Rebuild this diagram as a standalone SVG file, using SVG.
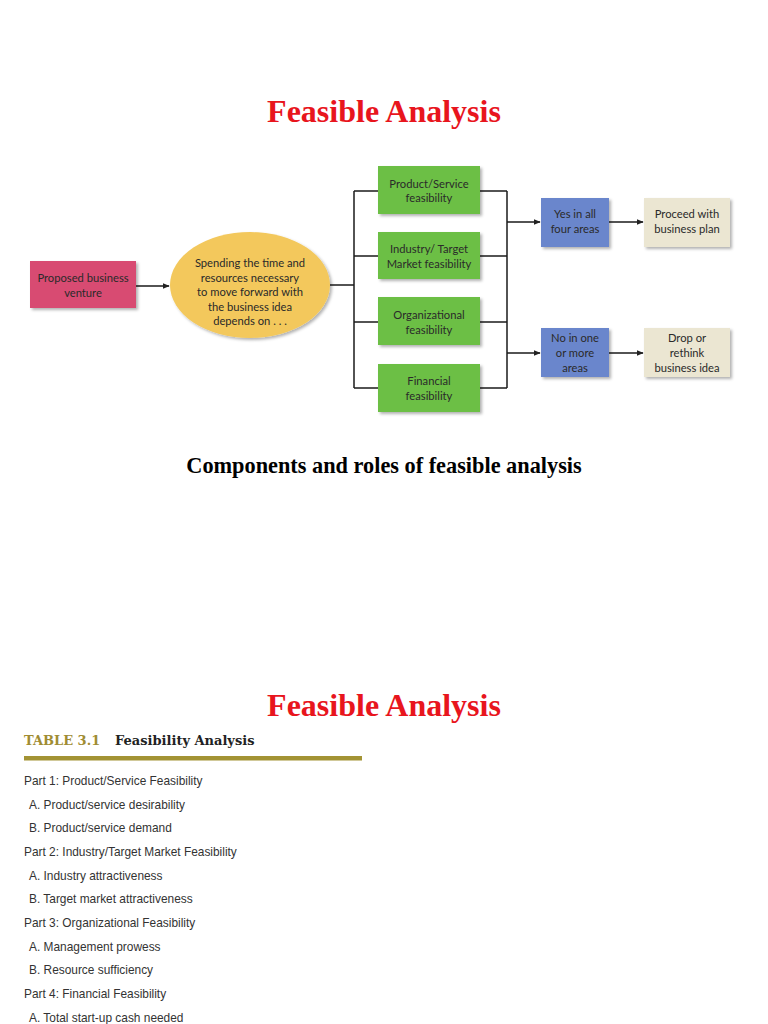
<svg xmlns="http://www.w3.org/2000/svg" width="768" height="1024" viewBox="0 0 768 1024">
<defs>
<filter id="sh" x="-10%" y="-10%" width="130%" height="130%">
<feDropShadow dx="2" dy="2" stdDeviation="1.5" flood-color="#000" flood-opacity="0.3"/>
</filter>
<marker id="ah" viewBox="0 0 10 10" refX="9" refY="5" markerWidth="7" markerHeight="7" orient="auto" markerUnits="userSpaceOnUse">
<path d="M0,1 L10,5 L0,9 z" fill="#222"/>
</marker>
<style>
.title{font-family:"Liberation Serif",serif;font-weight:bold;font-size:32px;fill:#e8151d;text-anchor:middle}
.cap{font-family:"Liberation Serif",serif;font-weight:bold;font-size:22.3px;fill:#000;text-anchor:middle}
.nt{font-family:Lato,"Liberation Sans",sans-serif;font-size:11.2px;fill:#2a2a2a;text-anchor:middle}
.ln{stroke:#1a1a1a;stroke-width:1.5;fill:none}
.tb{font-family:"Liberation Sans",Arial,sans-serif;font-size:11.9px;fill:#333}
</style>
</defs>
<rect width="768" height="1024" fill="#fff"/>
<text class="title" x="384" y="122">Feasible Analysis</text>

<g id="connectors">
<line class="ln" x1="136" y1="286" x2="169" y2="286" marker-end="url(#ah)"/>
<line class="ln" x1="330" y1="285" x2="354" y2="285"/>
<line class="ln" x1="354" y1="191" x2="354" y2="388"/>
<line class="ln" x1="354" y1="191" x2="378" y2="191"/>
<line class="ln" x1="354" y1="256" x2="378" y2="256"/>
<line class="ln" x1="354" y1="322" x2="378" y2="322"/>
<line class="ln" x1="354" y1="388" x2="378" y2="388"/>
<line class="ln" x1="480" y1="191" x2="507" y2="191"/>
<line class="ln" x1="480" y1="256" x2="507" y2="256"/>
<line class="ln" x1="480" y1="322" x2="507" y2="322"/>
<line class="ln" x1="480" y1="388" x2="507" y2="388"/>
<line class="ln" x1="507" y1="191" x2="507" y2="388"/>
<line class="ln" x1="507" y1="222" x2="540" y2="222" marker-end="url(#ah)"/>
<line class="ln" x1="507" y1="353" x2="540" y2="353" marker-end="url(#ah)"/>
<line class="ln" x1="609" y1="222" x2="643" y2="222" marker-end="url(#ah)"/>
<line class="ln" x1="609" y1="353" x2="643" y2="353" marker-end="url(#ah)"/>
</g>

<g id="n-venture">
<rect x="30" y="261" width="106" height="47" fill="#d84c72" filter="url(#sh)"/>
<text class="nt" x="83" y="282">Proposed business</text>
<text class="nt" x="83" y="297">venture</text>
</g>
<g id="n-spending">
<ellipse cx="250" cy="285" rx="80" ry="53" fill="#f3c85c" filter="url(#sh)"/>
<text class="nt" x="250" y="267">Spending the time and</text>
<text class="nt" x="250" y="281.5">resources necessary</text>
<text class="nt" x="250" y="296">to move forward with</text>
<text class="nt" x="250" y="310.5">the business idea</text>
<text class="nt" x="250" y="325">depends on . . .</text>
</g>
<g id="n-product">
<rect x="378" y="166" width="102" height="48" fill="#6cbf45" filter="url(#sh)"/>
<text class="nt" x="429" y="188">Product/Service</text>
<text class="nt" x="429" y="202">feasibility</text>
</g>
<g id="n-industry">
<rect x="378" y="232" width="102" height="47" fill="#6cbf45" filter="url(#sh)"/>
<text class="nt" x="429" y="253">Industry/ Target</text>
<text class="nt" x="429" y="268">Market feasibility</text>
</g>
<g id="n-org">
<rect x="378" y="297" width="102" height="48" fill="#6cbf45" filter="url(#sh)"/>
<text class="nt" x="429" y="319">Organizational</text>
<text class="nt" x="429" y="334">feasibility</text>
</g>
<g id="n-fin">
<rect x="378" y="364" width="102" height="48" fill="#6cbf45" filter="url(#sh)"/>
<text class="nt" x="429" y="385">Financial</text>
<text class="nt" x="429" y="400">feasibility</text>
</g>
<g id="n-yes">
<rect x="541" y="198" width="68" height="49" fill="#6b86cc" filter="url(#sh)"/>
<text class="nt" x="575" y="218">Yes in all</text>
<text class="nt" x="575" y="233">four areas</text>
</g>
<g id="n-no">
<rect x="541" y="328" width="68" height="49" fill="#6b86cc" filter="url(#sh)"/>
<text class="nt" x="575" y="342">No in one</text>
<text class="nt" x="575" y="357">or more</text>
<text class="nt" x="575" y="372">areas</text>
</g>
<g id="n-proceed">
<rect x="644" y="198" width="86" height="49" fill="#ebe6d2" filter="url(#sh)"/>
<text class="nt" x="687" y="218">Proceed with</text>
<text class="nt" x="687" y="233">business plan</text>
</g>
<g id="n-drop">
<rect x="644" y="328" width="86" height="49" fill="#ebe6d2" filter="url(#sh)"/>
<text class="nt" x="687" y="342">Drop or</text>
<text class="nt" x="687" y="357">rethink</text>
<text class="nt" x="687" y="372">business idea</text>
</g>

<text class="cap" x="384" y="473">Components and roles of feasible analysis</text>

<text class="title" x="384" y="716">Feasible Analysis</text>
<text x="24" y="745" font-family="'DejaVu Serif',serif" font-weight="bold" font-size="13px" fill="#a08c32">TABLE 3.1</text>
<text x="115" y="745" font-family="'DejaVu Serif',serif" font-weight="bold" font-size="13px" fill="#222">Feasibility Analysis</text>
<rect x="24" y="756" width="338" height="4.5" fill="#a39334"/>
<text class="tb" x="24" y="785">Part 1: Product/Service Feasibility</text>
<text class="tb" x="29" y="808.5">A. Product/service desirability</text>
<text class="tb" x="29" y="832">B. Product/service demand</text>
<text class="tb" x="24" y="856">Part 2: Industry/Target Market Feasibility</text>
<text class="tb" x="29" y="879.5">A. Industry attractiveness</text>
<text class="tb" x="29" y="903">B. Target market attractiveness</text>
<text class="tb" x="24" y="927">Part 3: Organizational Feasibility</text>
<text class="tb" x="29" y="950.5">A. Management prowess</text>
<text class="tb" x="29" y="974">B. Resource sufficiency</text>
<text class="tb" x="24" y="998">Part 4: Financial Feasibility</text>
<text class="tb" x="29" y="1021.5">A. Total start-up cash needed</text>
</svg>
